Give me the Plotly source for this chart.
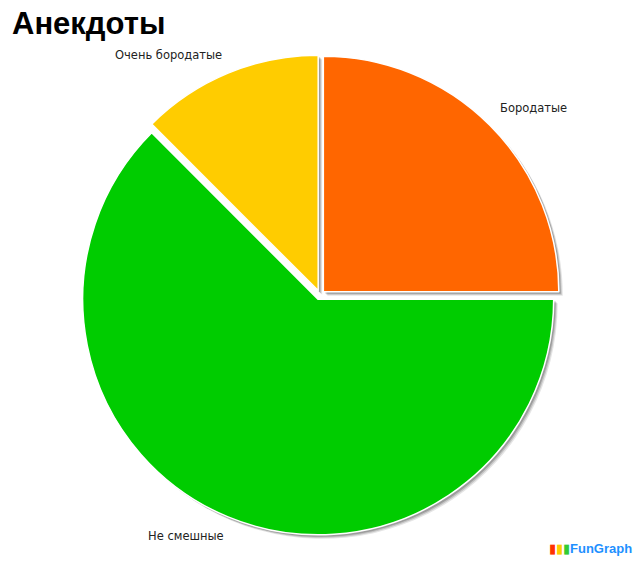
import plotly.graph_objects as go

labels = ["Бородатые", "Не смешные", "Очень бородатые"]
values = [2, 5, 1]
colors = ["#FF6600", "#00CC00", "#FFCC00"]
title_text = "Анекдоты"

W, H = 640, 565
cx, cy, R = 320, 295, 235.5
pull = 0.02
rd = R * (1 + pull)

def dom(dx=0, dy=0):
    x0 = (cx + dx - rd) / W
    x1 = (cx + dx + rd) / W
    yc = H - (cy + dy)
    return dict(x=[x0, x1], y=[(yc - rd) / H, (yc + rd) / H])

fig = go.Figure()

# soft shadow layers
for off, op in [(4, 0.10), (3, 0.15), (2, 0.2)]:
    fig.add_trace(go.Pie(
        labels=labels, values=values, sort=False, direction="clockwise", rotation=0,
        pull=[pull] * len(values), domain=dom(off, off),
        marker=dict(colors=[f"rgba(0,0,0,{op})"] * len(values), line=dict(width=0)),
        textinfo="none", hoverinfo="skip", showlegend=False,
    ))

fig.add_trace(go.Pie(
    labels=labels, values=values, sort=False, direction="clockwise", rotation=0,
    pull=[pull] * len(values), domain=dom(),
    marker=dict(colors=colors, line=dict(color="white", width=1.5)),
    textinfo="none", showlegend=False,
))

label_pos = {"Бородатые": (533, 108), "Не смешные": (185.5, 535.5), "Очень бородатые": (168.5, 55)}
annotations = []
for lab in labels:
    px, py = label_pos[lab]
    annotations.append(dict(
        x=px / W, y=1 - py / H, xref="paper", yref="paper", text=lab, showarrow=False,
        xanchor="center", yanchor="middle",
        font=dict(family="DejaVu Sans", size=11.5, color="#222222"),
    ))

annotations.append(dict(
    x=10 / W, y=1 - 23 / H, xref="paper", yref="paper", text=f"<b>{title_text}</b>",
    showarrow=False, xanchor="left", yanchor="middle",
    font=dict(family="Liberation Sans", size=31, color="#000000"),
))

annotations.append(dict(
    x=634 / W, y=1 - 548 / H, xref="paper", yref="paper",
    text="<span style='color:#ff3300'>▮</span><span style='color:#ffcc00'>▮</span><span style='color:#33cc33'>▮</span><b>FunGraph</b>",
    showarrow=False, xanchor="right", yanchor="middle",
    font=dict(family="Liberation Sans", size=13, color="#1e90ff"),
))

fig.update_layout(
    width=W, height=H, margin=dict(l=0, r=0, t=0, b=0),
    paper_bgcolor="white", plot_bgcolor="white",
    annotations=annotations,
)

fig.write_html("out.html", config={"displayModeBar": False},
               post_script="document.body.style.margin='0';document.body.style.padding='0';")
